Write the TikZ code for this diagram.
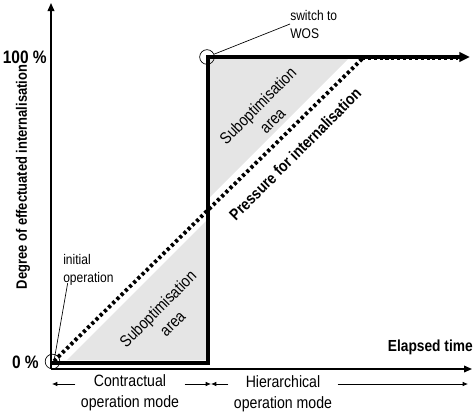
\documentclass[tikz,border=0pt]{standalone}
\usepackage{fontspec}
\setmainfont[FakeStretch=0.86]{Liberation Sans}
\usetikzlibrary{arrows.meta}
\begin{document}
\begin{tikzpicture}[x=0.75pt,y=-0.75pt,
    axis/.style={line width=1.1pt,-{Triangle[length=6pt,width=5pt]}},
    stepline/.style={line width=2.3pt},
    pressure/.style={line width=2.9pt,dash pattern=on 2.3pt off 2.1pt},
    area/.style={fill=black!10,draw=none},
    ring/.style={circle,draw,line width=0.5pt,minimum size=11pt,inner sep=0pt},
    note/.style={font=\fontsize{10.5}{13.5}\selectfont,align=left,inner sep=0pt},
    txt/.style={font=\fontsize{12.3}{15.5}\selectfont,inner sep=0pt},
    bold/.style={font=\bfseries\fontsize{12}{14}\selectfont,inner sep=0pt},
    dim/.style={line width=0.6pt}]
      \useasboundingbox (0,0) rectangle (474,412);
      \draw
        (51,369) coordinate (o)
        (51,3) coordinate (ytop)
        (472,369) coordinate (xend)
        (51,363) coordinate (s0)
        (208,363) coordinate (s1)
        (208,57) coordinate (s2)
        (470,57) coordinate (s3)
        (54,361) coordinate (p0)
        (362,59) coordinate (p1)
        (458,59) coordinate (p2)
        (52,384) coordinate (d0)
        (211,384) coordinate (d1)
        (468,384) coordinate (d2);
      \fill[area] (210,59) -- (348,59) -- (210,197) -- cycle;
      \fill[area] (67,360) -- (206,360) -- (206,221) -- cycle;
      \draw[axis] (o) -- (ytop);
      \draw[axis] (o) -- (xend);
      \draw[stepline,-{Triangle[length=8pt,width=7pt]}] (s0) -- (s1) -- (s2) -- (s3);
      \draw[pressure] (p0) -- (p1);
      \draw[pressure,line width=2.1pt] (p1) -- (p2);
      \draw
        (52.5,361.5) node[ring] (init){}
        (207,57) node[ring] (switch){}
        (290,24) node[note,anchor=west] (switchnote){switch to\\WOS}
        (63,270) node[note,anchor=west] (initnote){initial\\operation}
        (47,57) node[anchor=east,inner sep=0pt,font=\bfseries\fontsize{13.5}{15}\selectfont] (full){100 \%}
        (39,362) node[anchor=east,inner sep=0pt,font=\bfseries\fontsize{13.5}{15}\selectfont] (zero){0 \%}
        (23,177) node[bold,rotate=90,font=\bfseries\fontsize{11.3}{13}\selectfont] (ylabel){Degree of effectuated internalisation}
        (473,347) node[bold,anchor=east] (xlabel){Elapsed time}
        (265,113) node[txt,rotate=45,align=center] (upper){Suboptimisation\\area}
        (165,316) node[txt,rotate=45,align=center] (lower){Suboptimisation\\area}
        (295,154) node[bold,rotate=45] (press){Pressure for internalisation}
        (130,393) node[txt,align=center] (contract){Contractual\\operation mode}
        (283,394) node[txt,align=center] (hier){Hierarchical\\operation mode};
      \begin{scope}[line width=0.5pt]
        \draw (switch) to (switchnote.west);
        \draw ([xshift=3.5pt,yshift=2pt]initnote.south west) to (p0);
      \end{scope}
      \begin{scope}[dim,-{Latex[length=4pt,width=3.5pt]}]
        \draw ([xshift=-4pt]d0 -| contract.west) to (d0);
        \draw ([xshift=4pt]d1 -| contract.east) to (d1);
        \draw ([xshift=-4pt]d1 -| hier.west) to (d1);
        \draw ([xshift=4pt]d2 -| hier.east) to (d2);
      \end{scope}
    \end{tikzpicture}
\end{document}
